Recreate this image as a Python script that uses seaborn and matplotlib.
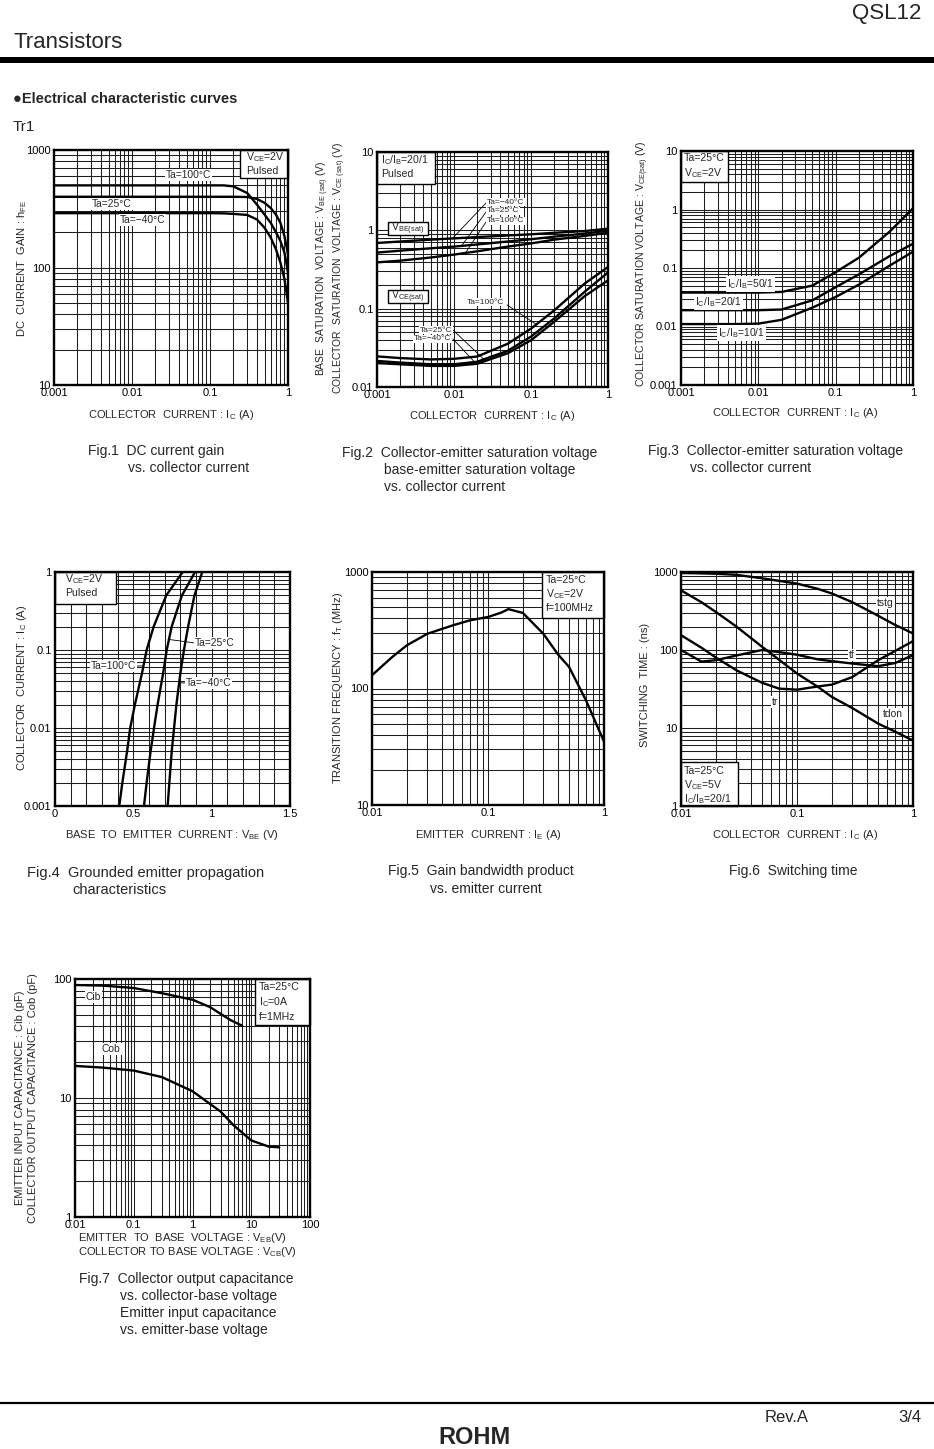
import numpy as np
import pandas as pd
import matplotlib
matplotlib.use("Agg")
import matplotlib.pyplot as plt
import matplotlib.transforms as mtransforms
from matplotlib.patches import Rectangle
from matplotlib.lines import Line2D
from matplotlib.ticker import NullFormatter
import seaborn as sns

# ---------------- data ----------------
# Fig.1  DC current gain vs collector current
f1_ic = [0.001, 0.003, 0.01, 0.03, 0.1, 0.15, 0.2, 0.3, 0.4, 0.5, 0.6, 0.7, 0.8, 0.9, 1.0]
f1_h100 = [500, 500, 500, 500, 500, 500, 490, 430, 343, 282, 240, 200, 168, 134, 91]
f1_h25 = [400, 400, 400, 400, 400, 400, 400, 398, 383, 355, 321, 282, 240, 185, 130]
f1_hm40 = [290, 290, 290, 290, 290, 289, 286, 280, 256, 218, 180, 143, 110, 80, 50]

# Fig.2  VBE(sat), VCE(sat) vs collector current (IC/IB=20/1)
f2_ic = [0.001, 0.002, 0.005, 0.01, 0.02, 0.05, 0.1, 0.2, 0.5, 1.0]
f2_vbe_m40 = [0.69, 0.72, 0.76, 0.79, 0.82, 0.86, 0.89, 0.93, 0.98, 1.05]
f2_vbe_25 = [0.52, 0.55, 0.59, 0.62, 0.66, 0.72, 0.77, 0.83, 0.91, 0.99]
f2_vbe_100 = [0.39, 0.41, 0.45, 0.49, 0.54, 0.62, 0.68, 0.76, 0.85, 0.93]
f2_vce_100 = [0.0246, 0.0234, 0.0225, 0.0229, 0.0245, 0.0357, 0.0556, 0.095, 0.21, 0.34]
f2_vce_25 = [0.0215, 0.0205, 0.0195, 0.0195, 0.0210, 0.0290, 0.0440, 0.075, 0.165, 0.29]
f2_vce_m40 = [0.0202, 0.0195, 0.0186, 0.0186, 0.0198, 0.0270, 0.0395, 0.068, 0.145, 0.23]

# Fig.3  VCE(sat) vs collector current for IC/IB ratios
f3_ic = [0.001, 0.002, 0.005, 0.01, 0.02, 0.05, 0.1, 0.2, 0.5, 1.0]
f3_r50 = [0.038, 0.038, 0.038, 0.038, 0.039, 0.050, 0.085, 0.150, 0.42, 1.05]
f3_r20 = [0.019, 0.019, 0.019, 0.019, 0.0195, 0.028, 0.047, 0.078, 0.16, 0.26]
f3_r10 = [0.011, 0.011, 0.011, 0.0112, 0.013, 0.021, 0.032, 0.052, 0.11, 0.19]

# Fig.4  Grounded emitter propagation (IC vs VBE)
f4_ic = [0.001, 0.002, 0.005, 0.01, 0.02, 0.05, 0.1, 0.2, 0.5, 1.0]
f4_vbe_100 = [0.41, 0.43, 0.46, 0.48, 0.51, 0.555, 0.585, 0.63, 0.71, 0.815]
f4_vbe_25 = [0.568, 0.585, 0.61, 0.632, 0.655, 0.69, 0.713, 0.745, 0.81, 0.894]
f4_vbe_m40 = [0.719, 0.73, 0.745, 0.76, 0.775, 0.80, 0.823, 0.85, 0.89, 0.94]

# Fig.5  Transition frequency vs emitter current
f5_ie = [0.01, 0.015, 0.02, 0.03, 0.05, 0.07, 0.1, 0.13, 0.15, 0.2, 0.3, 0.4, 0.5, 0.7, 1.0]
f5_ft = [130, 187, 235, 295, 349, 385, 411, 448, 480, 445, 295, 197, 153, 79, 35]

# Fig.6  Switching time vs collector current
f6_ic = [0.01, 0.015, 0.02, 0.03, 0.05, 0.07, 0.1, 0.15, 0.2, 0.3, 0.5, 0.7, 1.0]
f6_tstg = [970, 960, 950, 920, 830, 770, 710, 610, 530, 410, 275, 210, 163]
f6_tdon = [582, 410, 307, 200, 110, 75, 50, 34, 25, 18, 11.4, 9, 6.9]
f6_tf = [100, 71, 74, 85, 100, 94, 87, 76, 72, 67, 62, 68, 86]
f6_tr = [155, 107, 80, 55, 38, 32, 31, 34, 36, 45, 74, 97, 130]

# Fig.7  Capacitance vs reverse voltage
f7_veb = [0.01, 0.03, 0.1, 0.3, 1, 2, 3, 4.5, 7]
f7_cib = [89, 88, 84, 76, 67, 58, 51, 45, 40.5]
f7_vcb = [0.01, 0.03, 0.1, 0.3, 1, 3, 5, 10, 20, 30]
f7_cob = [18.6, 18.0, 17.0, 15.0, 11.4, 7.7, 5.9, 4.4, 3.9, 3.85]

# ---------------- style ----------------
sns.set_theme(style="white")
plt.rcParams['font.family'] = ['Liberation Sans', 'DejaVu Sans']
plt.rcParams['mathtext.fontset'] = 'custom'
plt.rcParams['mathtext.rm'] = 'Liberation Sans'
plt.rcParams['axes.unicode_minus'] = True

W, H = 934, 1449
fig = plt.figure(figsize=(W / 100, H / 100), dpi=100)
fig.patch.set_facecolor('white')
P = mtransforms.Affine2D().scale(1 / W, -1 / H).translate(0, 1) + fig.transFigure

GRID = '#1e1e1e'
TICK_FS = 8
LAB_FS = 8
BOX_FS = 7.6
CAP_FS = 10


def add_ax(x0, y0, x1, y1):
    return fig.add_axes([x0 / W, 1 - y1 / H, (x1 - x0) / W, (y1 - y0) / H])


def decades(lo, hi):
    e0, e1 = int(round(np.log10(lo))), int(round(np.log10(hi)))
    return [10.0 ** e for e in range(e0, e1 + 1)]


def minors(lo, hi):
    out = []
    for d in decades(lo, hi)[:-1]:
        out += [d * k for k in range(2, 10)]
    return out


def fmt(v):
    return '%g' % v


def style_ax(ax, xlim, ylim, xlog=True, ylog=True):
    ax.set_facecolor('white')
    if xlog:
        ax.set_xscale('log')
        ax.set_xticks(decades(*xlim))
        ax.set_xticks(minors(*xlim), minor=True)
        ax.set_xticklabels([fmt(v) for v in decades(*xlim)])
    if ylog:
        ax.set_yscale('log')
        ax.set_yticks(decades(*ylim))
        ax.set_yticks(minors(*ylim), minor=True)
        ax.set_yticklabels([fmt(v) for v in decades(*ylim)])
    ax.xaxis.set_minor_formatter(NullFormatter())
    ax.yaxis.set_minor_formatter(NullFormatter())
    ax.set_xlim(*xlim)
    ax.set_ylim(*ylim)
    ax.grid(True, which='both', color=GRID, lw=0.75, zorder=0)
    ax.set_axisbelow(True)
    ax.tick_params(which='both', length=0, labelsize=TICK_FS, pad=2.5, colors='black')
    for s in ax.spines.values():
        s.set_visible(True)
        s.set_linewidth(1.7)
        s.set_color('black')
        s.set_zorder(10)


def curve(ax, x, y):
    df = pd.DataFrame({'x': x, 'y': y})
    sns.lineplot(data=df, x='x', y='y', ax=ax, color='black', linewidth=1.7,
                 estimator=None, sort=True, legend=False, zorder=3)
    ax.set_xlabel('')
    ax.set_ylabel('')


def box(ax, x0, y0, x1, y1, lines, tx, ty, dy, fs=BOX_FS):
    ax.add_patch(Rectangle((x0, y0), x1 - x0, y1 - y0, transform=P, facecolor='white',
                           edgecolor='black', lw=1.0, zorder=7, clip_on=False))
    for i, s in enumerate(lines):
        ax.text(tx, ty + i * dy, s, transform=P, fontsize=fs, ha='left', va='center', zorder=8)


def label(ax, x, y, s, fs=7.4, ha='left'):
    ax.text(x, y, s, transform=P, fontsize=fs, ha=ha, va='center', zorder=8,
            bbox=dict(boxstyle='square,pad=0.08', fc='white', ec='none'))


def leader(ax, xy_data, xy_px):
    ax.annotate('', xy=xy_data, xycoords='data', xytext=xy_px, textcoords=P,
                arrowprops=dict(arrowstyle='-', color='black', lw=0.6, shrinkA=0, shrinkB=0),
                zorder=6)


def ftext(x, y, s, fs=LAB_FS, ha='center', rot=0, **kw):
    fig.text(x, y, s, transform=P, fontsize=fs, ha=ha, va='center', rotation=rot, **kw)


VCE = r'$\mathregular{V_{CE}}$'
IC = r'$\mathregular{I_C}$'
ICIB = r'$\mathregular{I_C/I_B}$'

# ---------------- Fig.1 ----------------
ax1 = add_ax(54, 150, 288, 385)
style_ax(ax1, (0.001, 1), (10, 1000))
curve(ax1, f1_ic, f1_h100)
curve(ax1, f1_ic, f1_h25)
curve(ax1, f1_ic, f1_hm40)
box(ax1, 240, 150, 288, 178, [VCE + '=2V', 'Pulsed'], 246, 157, 14)
label(ax1, 166, 175, 'Ta=100°C')
label(ax1, 92, 204, 'Ta=25°C')
label(ax1, 120, 220, 'Ta=\u221240°C')
ftext(171, 415, 'COLLECTOR  CURRENT : ' + IC + ' (A)')
ftext(22, 268, 'DC  CURRENT  GAIN : ' + r'$\mathregular{h_{FE}}$', rot=90)
ftext(88, 451, 'Fig.1  DC current gain', fs=CAP_FS, ha='left')
ftext(128, 468, 'vs. collector current', fs=CAP_FS, ha='left')

# ---------------- Fig.2 ----------------
ax2 = add_ax(377, 152, 608, 387)
style_ax(ax2, (0.001, 1), (0.01, 10))
for ys in (f2_vbe_m40, f2_vbe_25, f2_vbe_100, f2_vce_100, f2_vce_25, f2_vce_m40):
    curve(ax2, f2_ic, ys)
box(ax2, 377, 152, 435, 184, [ICIB + '=20/1', 'Pulsed'], 381, 160, 14)
box(ax2, 388, 222, 428, 235, [r'$\mathregular{V_{BE(sat)}}$'], 391, 228.5, 0)
box(ax2, 388, 290, 428, 303, [r'$\mathregular{V_{CE(sat)}}$'], 391, 296.5, 0)
label(ax2, 487, 202, 'Ta=\u221240°C', fs=6)
label(ax2, 487, 211, 'Ta=25°C', fs=6)
label(ax2, 487, 221, 'Ta=100°C', fs=6)
leader(ax2, (0.0095, 0.785), (486, 203))
leader(ax2, (0.0125, 0.63), (486, 212))
leader(ax2, (0.014, 0.51), (486, 222))
label(ax2, 467, 302, 'Ta=100°C', fs=6)
label(ax2, 420, 330, 'Ta=25°C', fs=6)
label(ax2, 414, 339, 'Ta=\u221240°C', fs=6)
leader(ax2, (0.12, 0.062), (507, 305))
leader(ax2, (0.0245, 0.0225), (453, 330))
leader(ax2, (0.0195, 0.0197), (453, 339))
ftext(492, 416, 'COLLECTOR  CURRENT : ' + IC + ' (A)')
ftext(331, 268, 'BASE  SATURATION  VOLTAGE : ' + r'$\mathregular{V_{BE\ (sat)}}$' + ' (V)\n'
      + 'COLLECTOR  SATURATION  VOLTAGE : ' + r'$\mathregular{V_{CE\ (sat)}}$' + ' (V)',
      fs=7.5, rot=90, multialignment='center', linespacing=1.05)
ftext(342, 453, 'Fig.2  Collector-emitter saturation voltage', fs=CAP_FS, ha='left')
ftext(384, 470, 'base-emitter saturation voltage', fs=CAP_FS, ha='left')
ftext(384, 487, 'vs. collector current', fs=CAP_FS, ha='left')

# ---------------- Fig.3 ----------------
ax3 = add_ax(681, 151, 913, 385)
style_ax(ax3, (0.001, 1), (0.001, 10))
curve(ax3, f3_ic, f3_r50)
curve(ax3, f3_ic, f3_r20)
curve(ax3, f3_ic, f3_r10)
box(ax3, 681, 151, 728, 182, ['Ta=25°C', VCE + '=2V'], 684, 158, 15)
label(ax3, 727, 284, ICIB + '=50/1')
label(ax3, 695, 302, ICIB + '=20/1')
label(ax3, 718, 333, ICIB + '=10/1')
ftext(795, 413, 'COLLECTOR  CURRENT : ' + IC + ' (A)')
ftext(643, 264, 'COLLECTOR SATURATION VOLTAGE : ' + r'$\mathregular{V_{CE(sat)}}$' + ' (V)', fs=7.6, rot=90)
ftext(648, 451, 'Fig.3  Collector-emitter saturation voltage', fs=CAP_FS, ha='left')
ftext(690, 468, 'vs. collector current', fs=CAP_FS, ha='left')

# ---------------- Fig.4 ----------------
ax4 = add_ax(55, 572, 290, 806)
style_ax(ax4, (0, 1.5), (0.001, 1), xlog=False)
ax4.set_xticks([0, 0.5, 1, 1.5])
ax4.set_xticklabels(['0', '0.5', '1', '1.5'])
ax4.set_xticks(np.arange(0, 1.51, 0.1), minor=True)
ax4.set_xlim(0, 1.5)
curve(ax4, f4_vbe_100, f4_ic)
curve(ax4, f4_vbe_25, f4_ic)
curve(ax4, f4_vbe_m40, f4_ic)
box(ax4, 55, 572, 116, 604, [VCE + '=2V', 'Pulsed'], 65, 579, 14)
label(ax4, 195, 643, 'Ta=25°C')
label(ax4, 91, 666, 'Ta=100°C')
label(ax4, 186, 683, 'Ta=\u221240°C')
leader(ax4, (0.722, 0.137), (195, 643))
leader(ax4, (0.565, 0.0625), (137, 666))
leader(ax4, (0.792, 0.038), (186, 683))
ftext(172, 835, 'BASE  TO  EMITTER  CURRENT : ' + r'$\mathregular{V_{BE}}$' + ' (V)')
ftext(22, 688, 'COLLECTOR  CURRENT : ' + IC + ' (A)', rot=90)
ftext(27, 873, 'Fig.4  Grounded emitter propagation', fs=CAP_FS + 0.5, ha='left')
ftext(72, 890, 'characteristics', fs=CAP_FS + 0.5, ha='left')

# ---------------- Fig.5 ----------------
ax5 = add_ax(372, 572, 604, 805)
style_ax(ax5, (0.01, 1), (10, 1000))
curve(ax5, f5_ie, f5_ft)
box(ax5, 542, 572, 604, 618, ['Ta=25°C', VCE + '=2V', 'f=100MHz'], 546, 580, 14)
ftext(488, 835, 'EMITTER  CURRENT : ' + r'$\mathregular{I_E}$' + ' (A)')
ftext(338, 688, 'TRANSITION FREQUENCY : ' + r'$\mathregular{f_T}$' + ' (MHz)', rot=90)
ftext(388, 871, 'Fig.5  Gain bandwidth product', fs=CAP_FS, ha='left')
ftext(430, 889, 'vs. emitter current', fs=CAP_FS, ha='left')

# ---------------- Fig.6 ----------------
ax6 = add_ax(681, 572, 913, 806)
style_ax(ax6, (0.01, 1), (1, 1000))
curve(ax6, f6_ic, f6_tstg)
curve(ax6, f6_ic, f6_tdon)
curve(ax6, f6_ic, f6_tf)
curve(ax6, f6_ic, f6_tr)
box(ax6, 681, 762, 738, 806, ['Ta=25°C', r'$\mathregular{V_{CE}}$=5V', ICIB + '=20/1'], 684, 771, 14)
label(ax6, 877, 603, 'tstg')
label(ax6, 849, 655, 'tf')
label(ax6, 772, 702, 'tr')
label(ax6, 883, 714, 'tdon')
ftext(795, 835, 'COLLECTOR  CURRENT : ' + IC + ' (A)')
ftext(645, 685, 'SWITCHING  TIME : (ns)', rot=90)
ftext(729, 871, 'Fig.6  Switching time', fs=CAP_FS, ha='left')

# ---------------- Fig.7 ----------------
ax7 = add_ax(75, 979, 310, 1217)
style_ax(ax7, (0.01, 100), (1, 100))
curve(ax7, f7_veb, f7_cib)
curve(ax7, f7_vcb, f7_cob)
box(ax7, 255, 979, 310, 1025, ['Ta=25°C', r'$\mathregular{I_C}$=0A', 'f=1MHz'], 259, 987, 15)
label(ax7, 86, 997, 'Cib')
label(ax7, 102, 1049, 'Cob')
ftext(78, 1238, 'EMITTER  TO  BASE  VOLTAGE : ' + r'$\mathregular{V_{EB}}$' + '(V)', ha='left')
ftext(78, 1252, 'COLLECTOR TO BASE VOLTAGE : ' + r'$\mathregular{V_{CB}}$' + '(V)', ha='left')
ftext(20, 1098, 'EMITTER INPUT CAPACITANCE : Cib (pF)', rot=90)
ftext(33, 1098, 'COLLECTOR OUTPUT CAPACITANCE : Cob (pF)', rot=90)
ftext(79, 1279, 'Fig.7  Collector output capacitance', fs=CAP_FS, ha='left')
ftext(120, 1296, 'vs. collector-base voltage', fs=CAP_FS, ha='left')
ftext(120, 1313, 'Emitter input capacitance', fs=CAP_FS, ha='left')
ftext(120, 1330, 'vs. emitter-base voltage', fs=CAP_FS, ha='left')

# ---------------- page header / footer ----------------
ftext(921, 13, 'QSL12', fs=16, ha='right')
ftext(13, 42, 'Transistors', fs=16, ha='left')
fig.add_artist(Line2D([0, W], [60, 60], transform=P, color='black', lw=4.3))
ftext(13, 99, '\u25cfElectrical characteristic curves', fs=10.5, ha='left', fontweight='bold')
ftext(13, 127, 'Tr1', fs=11, ha='left')
fig.add_artist(Line2D([0, W], [1403, 1403], transform=P, color='black', lw=1.6))
ftext(765, 1417, 'Rev.A', fs=12, ha='left')
ftext(921, 1417, '3/4', fs=12, ha='right')
fig.text(475, 1437, 'ROHM', transform=P, fontsize=17, ha='center', va='center',
         fontweight='heavy', family=['Liberation Sans Narrow', 'Liberation Sans'])

fig.savefig('out.png', dpi=100, facecolor='white')
